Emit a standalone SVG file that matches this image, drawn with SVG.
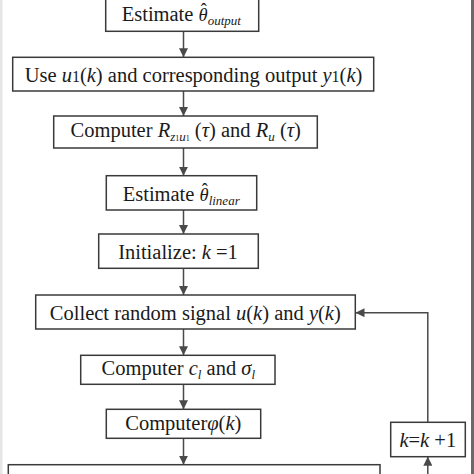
<svg xmlns="http://www.w3.org/2000/svg" width="474" height="474" viewBox="0 0 474 474">
<style>
.box{fill:#fff;stroke:#3a3a3a;stroke-width:1.5}
.t{font-family:"Liberation Serif","Times New Roman",serif;font-size:20.5px;fill:#1a1a1a;text-anchor:middle}
.st{text-anchor:start}
.i{font-style:italic}
.th{font-style:italic;font-size:18.5px}
.s{font-size:13px;font-style:italic}
.n{font-size:16px}
.hat{font-size:18px}
.c{fill:none;stroke:#4a4a4a;stroke-width:1.5}
</style>
<defs>
<marker id="ah" markerWidth="9" markerHeight="9" refX="9" refY="4.5" orient="auto" markerUnits="userSpaceOnUse">
<path d="M0,0 L9,4.5 L0,9 Z" fill="#4a4a4a"/>
</marker>
</defs>
<rect x="0" y="0" width="474" height="474" fill="#fff"/>
<rect x="0" y="0" width="2.5" height="474" fill="#e6e6e6"/>
<rect x="471" y="0" width="3" height="474" fill="#6a6a6a"/>
<g id="connectors">
<line class="c" x1="183.5" y1="31.3" x2="183.5" y2="57.3" marker-end="url(#ah)"/>
<line class="c" x1="183.5" y1="91" x2="183.5" y2="116" marker-end="url(#ah)"/>
<line class="c" x1="183.5" y1="148" x2="183.5" y2="175.7" marker-end="url(#ah)"/>
<line class="c" x1="183.5" y1="210" x2="183.5" y2="234" marker-end="url(#ah)"/>
<line class="c" x1="183.5" y1="268.3" x2="183.5" y2="295" marker-end="url(#ah)"/>
<line class="c" x1="183.5" y1="329" x2="183.5" y2="355.3" marker-end="url(#ah)"/>
<line class="c" x1="183.5" y1="384.3" x2="183.5" y2="409.3" marker-end="url(#ah)"/>
<line class="c" x1="183.5" y1="438.3" x2="183.5" y2="464.7" marker-end="url(#ah)"/>
<line class="c" x1="427.8" y1="476" x2="427.8" y2="456.7" marker-end="url(#ah)"/>
<polyline class="c" points="427.8,422.3 427.8,312.7 355.5,312.7" marker-end="url(#ah)"/>
</g>
<g id="n1">
<rect class="box" x="105.7" y="-3" width="153" height="34.3"/>
<text class="t st" x="121.7" y="20.7">Estimate <tspan class="th">θ</tspan><tspan class="s" dy="4.5">output</tspan><tspan class="hat" x="200.8" y="16">ˆ</tspan></text>
</g>
<g id="n2">
<rect class="box" x="12.7" y="57.3" width="361" height="33.7"/>
<text class="t" x="193.5" y="81.7">Use <tspan class="i">u</tspan><tspan class="n">1</tspan>(<tspan class="i">k</tspan>) and corresponding output <tspan class="i">y</tspan><tspan class="n">1</tspan>(<tspan class="i">k</tspan>)</text>
</g>
<g id="n3">
<rect class="box" x="53.7" y="116" width="263.6" height="32"/>
<text class="t" x="185.7" y="136.7">Computer <tspan class="i">R</tspan><tspan class="s" dy="4">z</tspan><tspan font-size="8">1</tspan><tspan class="s">u</tspan><tspan font-size="8">1</tspan><tspan dy="-4"> (</tspan><tspan class="i">τ</tspan>) and <tspan class="i">R</tspan><tspan class="s" dy="4">u</tspan><tspan dy="-4"> (</tspan><tspan class="i">τ</tspan>)</text>
</g>
<g id="n4">
<rect class="box" x="106.3" y="175.7" width="150.4" height="34.3"/>
<text class="t st" x="122.7" y="200.7">Estimate <tspan class="th">θ</tspan><tspan class="s" dy="4.5">linear</tspan><tspan class="hat" x="201.8" y="196">ˆ</tspan></text>
</g>
<g id="n5">
<rect class="box" x="98.7" y="234" width="159.6" height="34.3"/>
<text class="t" x="178" y="259">Initialize: <tspan class="i">k</tspan> =1</text>
</g>
<g id="n6">
<rect class="box" x="35.7" y="295" width="319.6" height="34"/>
<text class="t" x="195.3" y="320">Collect random signal <tspan class="i">u</tspan>(<tspan class="i">k</tspan>) and <tspan class="i">y</tspan>(<tspan class="i">k</tspan>)</text>
</g>
<g id="n7">
<rect class="box" x="80.7" y="355.3" width="194.3" height="29"/>
<text class="t" x="178.3" y="375">Computer <tspan class="i">c</tspan><tspan class="s" dy="4">l</tspan><tspan dy="-4"> and </tspan><tspan class="i">σ</tspan><tspan class="s" dy="4">l</tspan></text>
</g>
<g id="n8">
<rect class="box" x="106.3" y="409.3" width="154.4" height="29"/>
<text class="t" x="183.3" y="430">Computer<tspan class="i">φ</tspan>(<tspan class="i">k</tspan>)</text>
</g>
<g id="n9">
<rect class="box" x="8.3" y="464.7" width="371.7" height="20"/>
</g>
<g id="n10">
<rect class="box" x="390.7" y="422.3" width="74.6" height="34.4"/>
<text class="t" x="427.8" y="446.7"><tspan class="i">k</tspan>=<tspan class="i">k</tspan> +1</text>
</g>
</svg>
